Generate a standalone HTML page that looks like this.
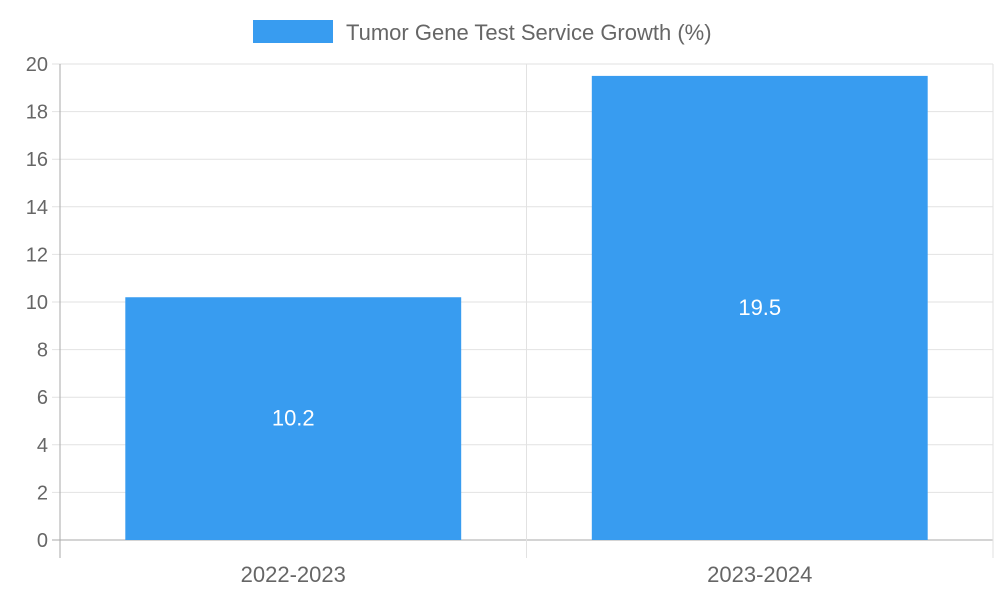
<!DOCTYPE html>
<html><head><meta charset="utf-8"><style>
body{margin:0;background:#fff;font-family:"Liberation Sans",sans-serif}
svg text{font-family:"Liberation Sans",sans-serif}
</style></head><body>
<svg id="chart" width="1000" height="600" xmlns="http://www.w3.org/2000/svg">
<g>
<rect x="253" y="20" width="80" height="23" fill="#389cf0"/>
<text x="346" y="40" font-size="22" fill="#666">Tumor Gene Test Service Growth (%)</text>
</g>
<g id="grid"></g>
<g id="bars"></g>
<g id="axes"></g>
</svg>
<script>
const categories = ["2022-2023", "2023-2024"];
const values = [10.2, 19.5];
const yTicks = [0, 2, 4, 6, 8, 10, 12, 14, 16, 18, 20];
const NS = "http://www.w3.org/2000/svg";
const L = 60, R = 993, T = 64, B = 540, yMax = 20;
const y = v => B - (v / yMax) * (B - T);
const cw = (R - L) / categories.length;
const x = i => L + cw * i;
function mk(tag, attrs, parent, text) {
  const e = document.createElementNS(NS, tag);
  for (const k in attrs) e.setAttribute(k, attrs[k]);
  if (text !== undefined) e.textContent = text;
  parent.appendChild(e); return e;
}
const grid = document.getElementById('grid'), bars = document.getElementById('bars'), axes = document.getElementById('axes');
yTicks.forEach(t => {
  const ln = mk('line', {x1: L - 8, x2: R, y1: y(t), y2: y(t), stroke: t === 0 ? '#aaa' : '#e2e2e2', 'stroke-width': 1}, grid);
  
  
  const tx = mk('text', {x: L - 12, y: y(t) + 7, 'text-anchor': 'end', 'font-size': 20, fill: '#666'}, axes, t);
  
  
});
for (let i = 0; i <= categories.length; i++) {
  const ln = mk('line', {x1: x(i), x2: x(i), y1: T, y2: B + 18, stroke: i === 0 ? '#aaa' : '#e2e2e2', 'stroke-width': 1}, grid);
  
  
}
categories.forEach((c, i) => {
  const bw = cw * 0.72, bx = x(i) + (cw - bw) / 2;
  const r = mk('rect', {x: bx, y: y(values[i]), width: bw, height: B - y(values[i]), fill: '#389cf0'}, bars);
  
  
  const vl = mk('text', {x: bx + bw / 2, y: (y(values[i]) + B) / 2 + 7, 'text-anchor': 'middle', 'font-size': 22, fill: '#fff'}, bars, values[i]);
  
  
  const xl = mk('text', {x: x(i) + cw / 2, y: 582, 'text-anchor': 'middle', 'font-size': 22, fill: '#666'}, axes, c);
  
  
});
</script>
</body></html>
